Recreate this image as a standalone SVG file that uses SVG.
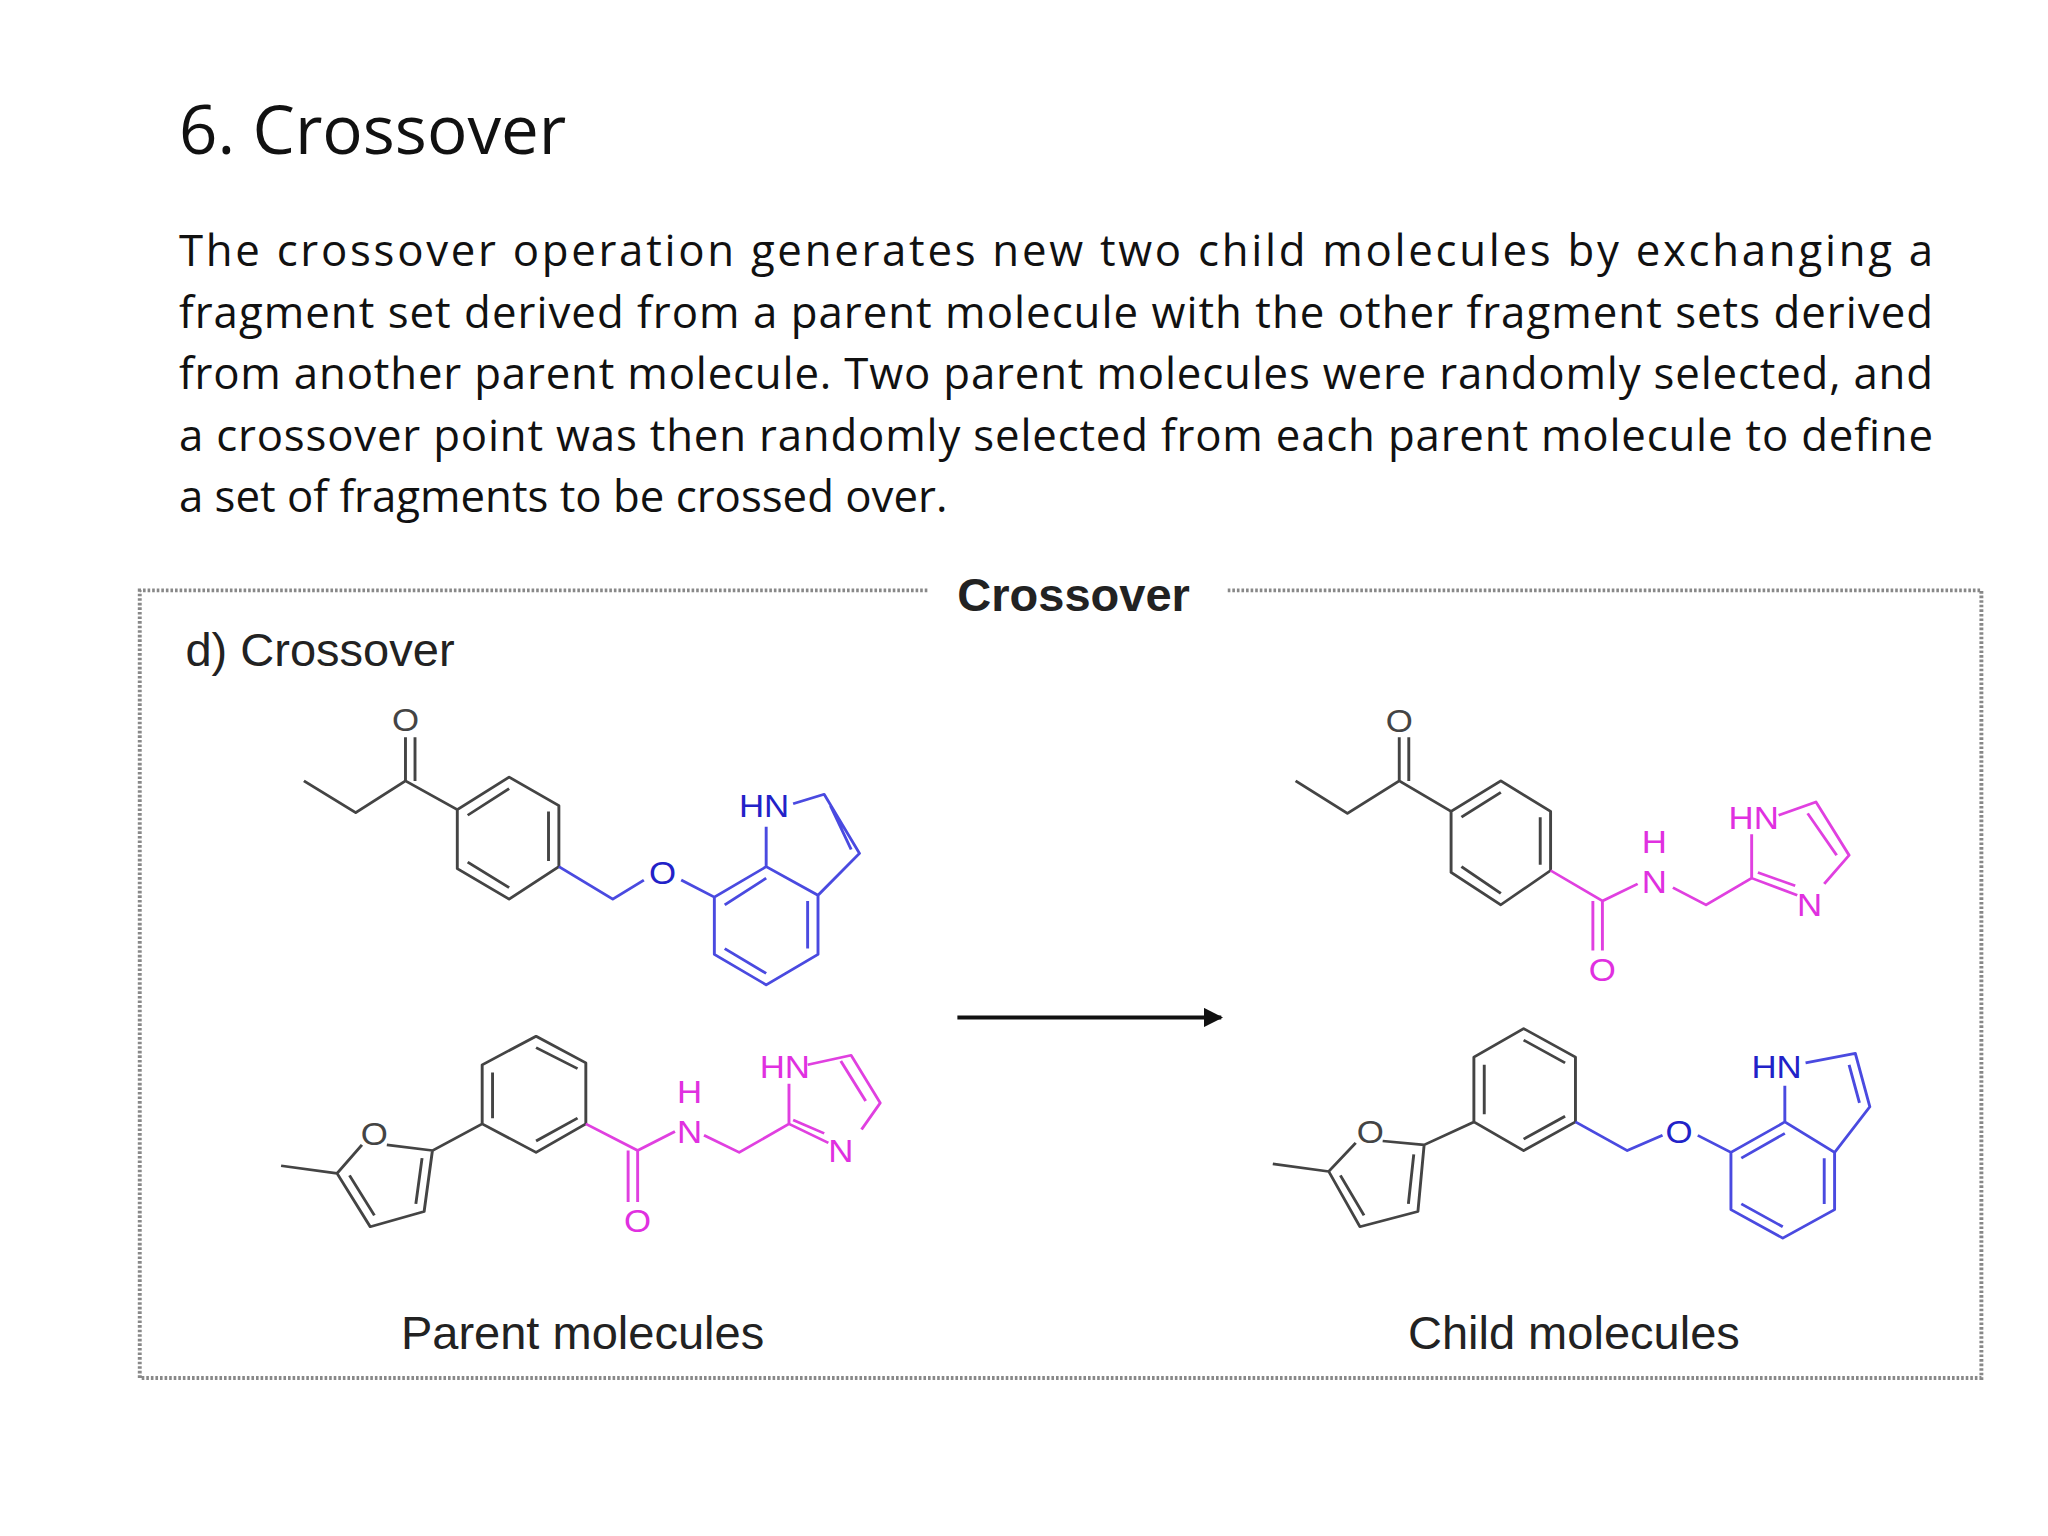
<svg xmlns="http://www.w3.org/2000/svg" width="2048" height="1536" viewBox="0 0 2048 1536">
<style>
.t{font-family:"Open Sans","Liberation Sans",sans-serif;fill:#111}
.h{font-family:"Liberation Sans",Arial,sans-serif;fill:#222}
.g{stroke:#444;stroke-width:7;fill:none;stroke-linejoin:round}
.b{stroke:#4a4ae0;stroke-width:7;fill:none;stroke-linejoin:round}
.m{stroke:#e040e0;stroke-width:7;fill:none;stroke-linejoin:round}
.lg{font-family:"Liberation Sans",Arial,sans-serif;font-size:84px;fill:#444;text-anchor:middle}
.lb{font-family:"Liberation Sans",Arial,sans-serif;font-size:84px;fill:#2222c8;text-anchor:middle}
.lm{font-family:"Liberation Sans",Arial,sans-serif;font-size:84px;fill:#e030e0;text-anchor:middle}
</style>
<defs>
<marker id="ah" viewBox="0 0 10 10" refX="9" refY="5" markerWidth="5" markerHeight="5" orient="auto"><path d="M0,0 L10,5 L0,10 z" fill="#111"/></marker>
</defs>
<rect width="2048" height="1536" fill="#fff"/>
<g transform="scale(1.30612)">
<text class="t" x="137" y="118" font-size="51.5">6. Crossover</text>
<g class="t" font-size="33.5">
<text x="137" y="204" textLength="1343" lengthAdjust="spacing">The crossover operation generates new two child molecules by exchanging a</text>
<text x="137" y="251" textLength="1343" lengthAdjust="spacing">fragment set derived from a parent molecule with the other fragment sets derived</text>
<text x="137" y="298" textLength="1343" lengthAdjust="spacing">from another parent molecule. Two parent molecules were randomly selected, and</text>
<text x="137" y="345" textLength="1343" lengthAdjust="spacing">a crossover point was then randomly selected from each parent molecule to define</text>
<text x="137" y="392">a set of fragments to be crossed over.</text>
</g>
<g id="frame">
<path d="M710,452 H107 V1055 H1517 V452 H940" fill="none" stroke="#888" stroke-width="3" stroke-dasharray="2 1.5"/>
<text class="h" x="822" y="468" font-size="36" font-weight="bold" text-anchor="middle">Crossover</text>
<text class="h" x="142" y="510" font-size="36">d) Crossover</text>
<text class="h" x="446" y="1033" font-size="36" text-anchor="middle">Parent molecules</text>
<text class="h" x="1205" y="1033" font-size="36" text-anchor="middle">Child molecules</text>
</g>
<g id="connectors"><line x1="733" y1="779" x2="935" y2="779" stroke="#111" stroke-width="3" marker-end="url(#ah)"/></g>
</g>

<g id="parents" transform="translate(250,680) scale(0.4146,0.381)">
<path class="g" d="M130,265 L255,348 L375,265 L500,340 M375,265 V150 M398,265 V150"/>
<text class="lg" x="375" y="135">O</text>
<path class="g" d="M500,340 L625,255 L745,330 L745,490 L625,575 L500,495 Z M525,355 L625,285 M720,345 V475 M625,545 L525,478"/>
<path class="b" d="M745,490 L875,575 L950,525 M1040,525 L1120,570 M1120,570 L1120,720 L1245,800 L1370,720 L1370,565 L1245,490 L1120,570 M1145,590 L1245,520 M1145,705 L1245,770 M1345,580 V705 M1245,490 V385 M1310,325 L1385,300 L1470,455 L1370,565 M1400,330 L1450,445"/>
<text class="lb" x="995" y="535">O</text>
<text class="lb" x="1240" y="360">HN</text>
<path class="g" d="M75,1275 L210,1295 L270,1220 M330,1220 L440,1235 L420,1395 L290,1435 L210,1295 M415,1255 L400,1375 M300,1405 L240,1300 M440,1235 L560,1165 M560,1165 L560,1010 L690,935 L810,1005 L810,1165 L690,1240 L560,1165 M585,1030 V1150 M690,965 L790,1020 M790,1150 L690,1210"/>
<text class="lg" x="300" y="1220">O</text>
<path class="m" d="M810,1165 L935,1235 L1025,1185 M935,1235 V1370 M912,1235 V1370 M1095,1195 L1180,1240 L1300,1165 L1300,1060 M1345,1010 L1450,985 L1520,1110 L1475,1180 M1425,1000 L1485,1105 M1395,1215 L1300,1165 M1385,1190 L1310,1155"/>
<text class="lm" x="935" y="1450">O</text>
<text class="lm" x="1060" y="1215">N</text>
<text class="lm" x="1060" y="1110">H</text>
<text class="lm" x="1290" y="1045">HN</text>
<text class="lm" x="1425" y="1265">N</text>
</g>

<g id="children" transform="translate(1250,680) scale(0.4146,0.381)">
<path class="g" d="M110,265 L235,350 L360,265 L485,345 M360,265 V150 M383,265 V150"/>
<text class="lg" x="360" y="137">O</text>
<path class="g" d="M485,345 L605,265 L725,345 L725,500 L605,590 L485,505 Z M510,360 L605,295 M700,360 V485 M605,560 L510,490"/>
<path class="m" d="M725,500 L850,580 L935,535 M850,580 V710 M827,580 V710 M1020,545 L1100,590 L1210,520 L1210,405 M1275,355 L1365,320 L1445,460 L1385,535 M1345,350 L1415,460 M1320,565 L1210,520 M1315,540 L1225,505"/>
<text class="lm" x="850" y="790">O</text>
<text class="lm" x="975" y="560">N</text>
<text class="lm" x="975" y="455">H</text>
<text class="lm" x="1215" y="390">HN</text>
<text class="lm" x="1350" y="620">N</text>
<path class="g" d="M55,1270 L190,1290 L255,1215 M320,1210 L420,1220 L405,1395 L265,1435 L190,1290 M395,1245 L382,1375 M275,1405 L218,1300 M420,1220 L540,1160 M540,1160 L540,990 L660,915 L785,990 L785,1160 L660,1235 L540,1160 M565,1010 V1140 M660,945 L760,1005 M760,1145 L660,1205"/>
<text class="lg" x="290" y="1215">O</text>
<path class="b" d="M785,1160 L910,1235 L995,1195 M1080,1195 L1160,1240 M1160,1240 L1160,1390 L1285,1465 L1410,1390 L1410,1240 L1290,1160 L1160,1240 M1185,1255 L1290,1190 M1185,1375 L1285,1435 M1385,1255 V1375 M1290,1160 V1065 M1340,1005 L1460,980 L1495,1120 L1410,1240 M1445,1010 L1470,1110"/>
<text class="lb" x="1035" y="1215">O</text>
<text class="lb" x="1270" y="1045">HN</text>
</g>
</svg>
